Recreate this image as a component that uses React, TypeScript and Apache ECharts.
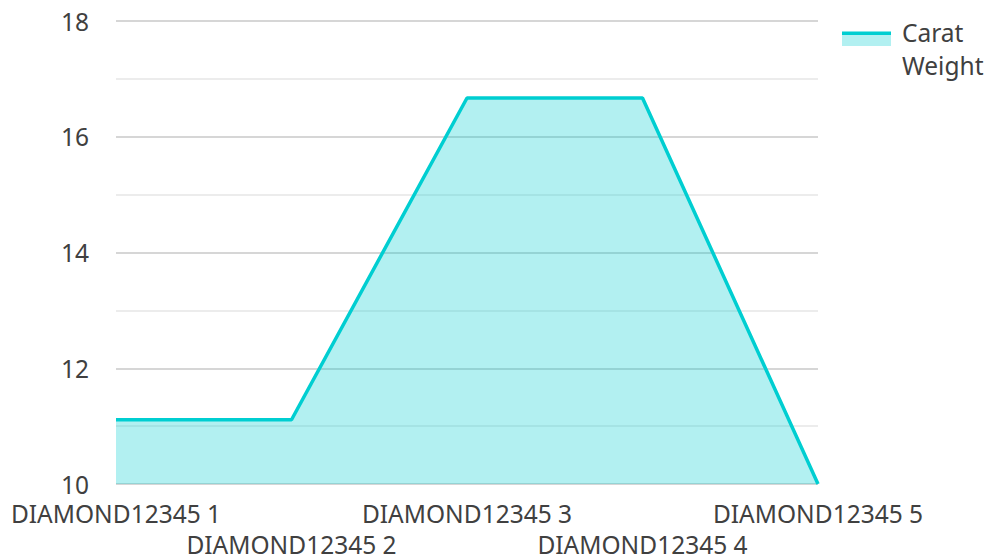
import React, { useEffect, useRef } from "react";
import * as echarts from "echarts";

const categories = ["DIAMOND12345 1", "DIAMOND12345 2", "DIAMOND12345 3", "DIAMOND12345 4", "DIAMOND12345 5"];
const caratWeight = [11.11, 11.11, 16.67, 16.67, 10];
const seriesName = "Carat Weight";
const legendLines = ["Carat", "Weight"];

const LINE = "#00CED1";
const FILL = "rgba(0,206,209,0.3)";
const FONT = "'Noto Sans', sans-serif";
const TEXT = "#404040";
const FS = 24.5;

export default function App() {
  const ref = useRef<HTMLDivElement>(null);
  useEffect(() => {
    if (!ref.current) return;
    const chart = echarts.init(ref.current, null, { renderer: "svg" });
    chart.setOption({
      animation: false,
      textStyle: { fontFamily: FONT },
      grid: { left: 116, right: 170, top: 21, bottom: 72, containLabel: false },
      xAxis: {
        type: "category",
        data: categories,
        boundaryGap: false,
        axisLine: { show: false },
        axisTick: { show: false },
        axisLabel: {
          interval: 0,
          margin: 14,
          color: TEXT,
          fontSize: FS,
          fontFamily: FONT,
          lineHeight: 31,
          formatter: (v: string, i: number) => (i % 2 === 1 ? "\n" + v : v),
        },
      },
      yAxis: {
        type: "value",
        min: 10,
        max: 18,
        interval: 2,
        axisLine: { show: false },
        axisTick: { show: false },
        axisLabel: { color: TEXT, fontSize: FS, fontFamily: FONT, margin: 27 },
        splitLine: { show: true, lineStyle: { color: "#c8c8c8", width: 1.5 } },
        minorTick: { show: false, splitNumber: 2 },
        minorSplitLine: { show: true, lineStyle: { color: "#e6e6e6", width: 1.5 } },
      },
      series: [
        {
          name: seriesName,
          type: "line",
          data: caratWeight,
          showSymbol: false,
          symbol: "none",
          lineStyle: { color: LINE, width: 3.5 },
          itemStyle: { color: LINE },
          areaStyle: { color: FILL, opacity: 1, origin: "start" },
        },
      ],
      graphic: [
        { type: "rect", shape: { x: 842, y: 35, width: 49, height: 11 }, style: { fill: FILL } },
        { type: "rect", shape: { x: 842, y: 31.5, width: 49, height: 3.5 }, style: { fill: LINE } },
        {
          type: "text",
          x: 902,
          y: 16,
          style: {
            text: legendLines.join("\n"),
            fill: TEXT,
            fontSize: FS,
            fontFamily: FONT,
            lineHeight: 33,
          },
        },
      ],
    });
    return () => chart.dispose();
  }, []);
  return <div ref={ref} style={{ width: 988, height: 560, position: "absolute", left: 0, top: 0 }} />;
}
